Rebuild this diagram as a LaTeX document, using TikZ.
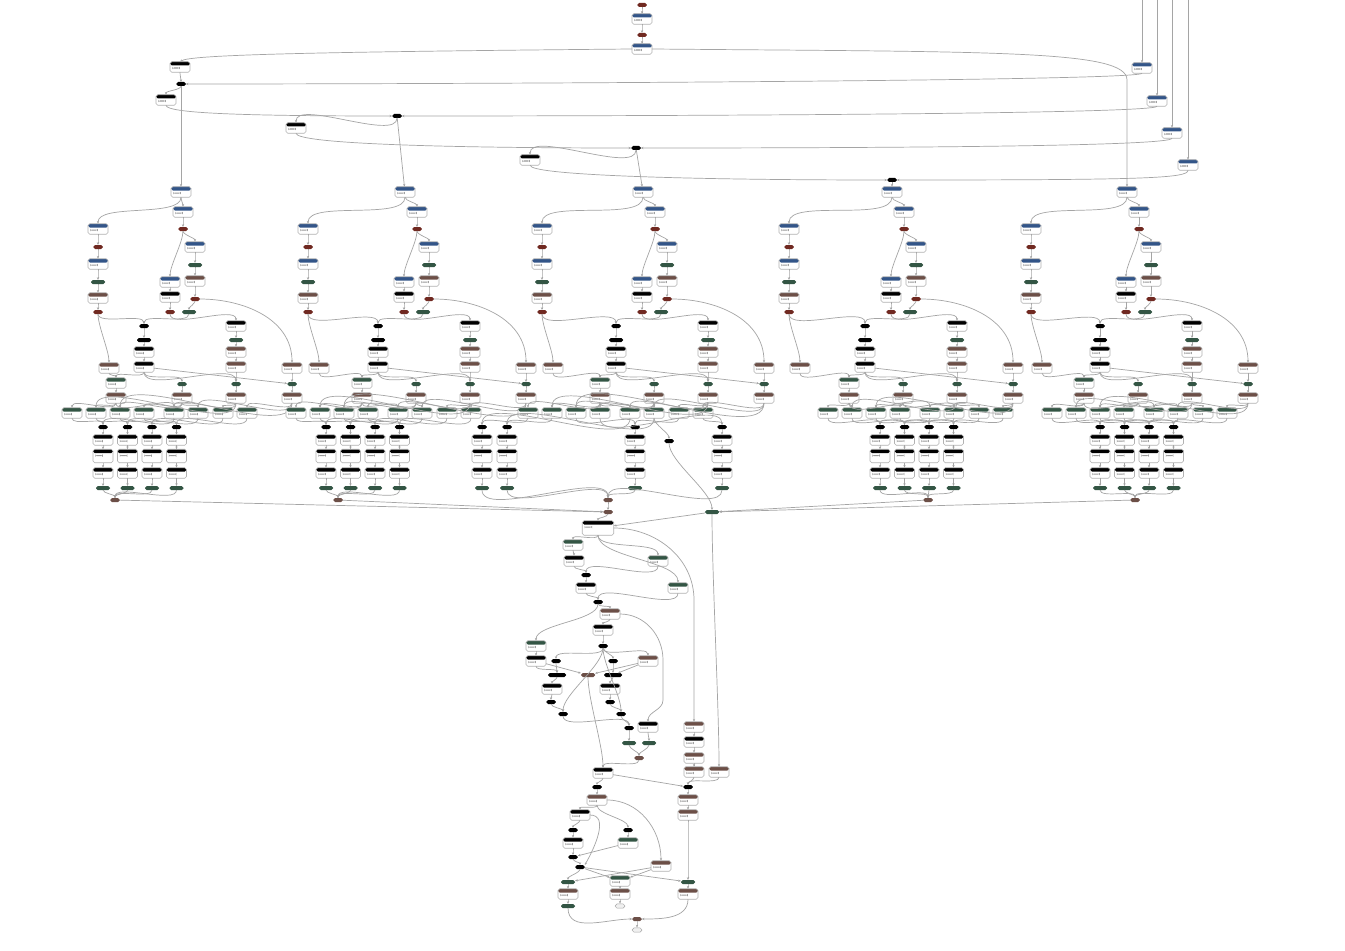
\documentclass[tikz,border=0pt]{standalone}
\usetikzlibrary{arrows.meta}

\definecolor{layerblue}{RGB}{51,85,136}
\definecolor{actred}{RGB}{112,41,33}
\definecolor{transgreen}{RGB}{51,85,68}
\definecolor{shapebrown}{RGB}{108,79,71}
\definecolor{edgegray}{RGB}{165,165,165}
\definecolor{boxline}{RGB}{178,178,178}

\tikzset{
	op/.style={rounded corners=0.35mm, minimum width=1.9mm, minimum height=0.8mm, inner sep=0pt, outer sep=0pt, fill=#1},
	op/.default=black,
	wop/.style={op=#1, minimum width=2.8mm},
	wop/.default=black,
	hdr/.style={draw=boxline, line width=0.35pt, fill=white, rounded corners=0.35mm, minimum width=4mm, minimum height=2.1mm, inner sep=0pt, outer sep=0pt,
		path picture={\fill[#1] (path picture bounding box.north west) rectangle ([yshift=-0.75mm]path picture bounding box.north east);
			\fill[black!40] ([xshift=0.45mm,yshift=-1.15mm]path picture bounding box.north west) rectangle +(1.5mm,-0.22mm);}},
	tall/.style={minimum height=2.7mm},
	outn/.style={rounded corners=0.35mm, minimum width=1.9mm, minimum height=0.85mm, inner sep=0pt, fill=black!6, draw=black!35, line width=0.3pt},
	edge/.style={draw=edgegray, line width=0.4pt, -{Stealth[length=0.55mm,width=0.45mm]}},
}
\newcommand\lk[2]{\draw[edge] (#1) to[out=-90,in=90,looseness=0.6] (#2);}

\begin{document}
\begin{tikzpicture}[x=0.2mm,y=-0.2mm]
		%%%%% START %%%%%
		\fill[white] (0,0) rectangle (1345,951);
		\useasboundingbox (0,0) rectangle (1345,951);

		% input chain
		\node[op=actred] (r0) at (642,5) {};
		\node[hdr=layerblue] (t1) at (642,19) {};
		\node[op=actred] (r1) at (642,35) {};
		\node[hdr=layerblue] (t2) at (642,49) {};
		\foreach \u/\v in {r0/t1, t1/r1, r1/t2}
			{\lk{\u}{\v}}

		\node[hdr=black] (k1) at (180,67) {};
		\node[op] (h1) at (181,84) {};
		\node[hdr=black] (k2) at (166,100) {};
		\node[op] (h2) at (397,116) {};
		\node[hdr=black] (k3) at (296,128) {};
		\node[op] (h3) at (636,148) {};
		\node[hdr=black] (k4) at (530,160) {};
		\node[op] (h4) at (892,180) {};
		\foreach \i/\x/\y in {1/1142/68, 2/1157/101, 3/1172/133, 4/1188/165} {
			\coordinate (tp\i) at (\x,0);
			\node[hdr=layerblue] (rb\i) at (\x,\y) {};
			\draw[edge] (tp\i) -- (rb\i);
			\draw[edge] (rb\i.south) .. controls +(0,8) and +(250,0) .. (h\i.east);
		}
		\draw[edge] (t2.west) .. controls (300,52) and (190,55) .. (k1.north);
		\foreach \u/\v in {k1/h1, h1/k2, h2/k3, h3/k4}
			{\lk{\u}{\v}}
		\draw[edge] (k2.south) .. controls +(0,8) and +(-150,0) .. (h2.west);
		\draw[edge] (k3.south) .. controls +(0,10) and +(-200,0) .. (h3.west);
		\draw[edge] (k4.south) .. controls +(0,10) and +(-200,0) .. (h4.west);

		% five blocks, upper part
		\foreach \b/\X/\R/\L/\BB in {1/181/181/98/116, 2/405/415/308/362, 3/643/653/542/600, 4/892/902/789/849, 5/1127/1137/1031/1084} {
			\node[hdr=layerblue] (A\b) at (\X,192) {};
			\node[hdr=layerblue] (B\b) at (\R+2,212) {};
			\node[hdr=layerblue] (C\b) at (\L,229) {};
			\node[op=actred] (D\b) at (\R+2,229) {};
			\node[op=actred] (E\b) at (\L,247) {};
			\node[hdr=layerblue] (J\b) at (\R+14,247) {};
			\node[hdr=layerblue] (F\b) at (\L,264) {};
			\node[wop=transgreen] (Lg\b) at (\R+14,265) {};
			\node[wop=transgreen] (G\b) at (\L,282) {};
			\node[hdr=layerblue] (K\b) at (\R-11,282) {};
			\node[hdr=shapebrown] (M\b) at (\R+14,281) {};
			\node[hdr=shapebrown] (H\b) at (\L,298) {};
			\node[hdr=black] (O\b) at (\R-11,297) {};
			\node[op=actred] (N\b) at (\R+14,299) {};
			\node[op=actred] (I\b) at (\L,312) {};
			\node[op=actred] (P\b) at (\R-11,312) {};
			\node[wop=transgreen] (Q\b) at (\R+8,312) {};
			\node[op] (S\b) at (\R-37,326) {};
			\node[hdr=black] (T\b) at (\R+55,326) {};
			\node[wop] (V\b) at (\R-37,340) {};
			\node[wop=transgreen] (Y\b) at (\R+55,340) {};
			\node[hdr=black] (W\b) at (\R-37,352) {};
			\node[hdr=shapebrown] (Z\b) at (\R+55,352) {};
			\node[hdr=black] (Xb\b) at (\R-37,367) {};
			\node[hdr=shapebrown] (AA\b) at (\R+55,367) {};
			\node[hdr=shapebrown] (U\b) at (\L+11,368) {};
			\node[hdr=shapebrown] (Rr\b) at (\R+111,368) {};
			\node[hdr=transgreen] (BB\b) at (\BB,383) {};
			\node[op=transgreen] (CC\b) at (\R+1,384) {};
			\node[op=transgreen] (DD\b) at (\R+55,384) {};
			\node[op=transgreen] (EE\b) at (\R+111,384) {};
			\node[hdr=shapebrown] (FF\b) at (\BB,398) {};
			\node[hdr=shapebrown] (GG\b) at (\R+1,398) {};
			\node[hdr=shapebrown] (HH\b) at (\R+55,398) {};
			\node[hdr=shapebrown] (II\b) at (\R+111,398) {};
			\foreach \u/\v in {A/B, A/C, B/D, C/E, E/F, F/G, G/H, H/I, D/J, D/K, J/Lg, Lg/M, M/N, K/O, O/P, N/Q,
					I/S, Q/S, P/T, I/U, S/V, V/W, W/Xb, T/Y, Y/Z, Z/AA, U/BB, Xb/BB, Xb/CC, Xb/DD, AA/DD, Rr/EE,
					BB/FF, CC/GG, DD/HH, EE/II}
				{\lk{\u\b}{\v\b}}
			\draw[edge] (N\b.east) to[out=0,in=90] (Rr\b.north);
			\draw[edge] (Xb\b) -- (EE\b);
		}
		\foreach \b in {1,...,4}
			\draw[edge] (h\b) -- (A\b);
		\draw[edge] (t2.east) .. controls (1000,52) and (1127,50) .. (1127,80) -- (A5.north);

		% five blocks, lower part
		\foreach \b/\G/\cl/\cv in {1/72/{103,127.5,152,176.5}/115, 2/296/{326,350.5,375,399.5}/338,
				3/528/{482,507,635,722}/608, 4/828/{880,904.5,929,953.5}/928, 5/1052/{1100,1124.5,1149,1173.5}/1135} {
			\foreach \o [count=\i] in {0,24,48,72,102,126,151,175}
				\node[hdr=transgreen] (g\b-\i) at (\G+\o,413) {};
			\foreach \u/\i in {FF/1, FF/2, FF/5, GG/3, GG/4, GG/6, HH/5, HH/7, HH/2, II/8, II/6, II/3}
				{\lk{\u\b}{g\b-\i}}
			\node[op=shapebrown] (cv\b) at (\cv,500) {};
			\foreach \cx [count=\j] in \cl {
				\pgfmathtruncatemacro\jj{\j+4}
				\node[op] (c\b-\j-1) at (\cx,427) {};
				\node[hdr=black] (c\b-\j-2) at (\cx,440) {};
				\node[hdr=black, tall] (c\b-\j-3) at (\cx,456) {};
				\node[hdr=black] (c\b-\j-4) at (\cx,473) {};
				\node[wop=transgreen] (c\b-\j-5) at (\cx,488) {};
				\lk{g\b-\j}{c\b-\j-1}
				\lk{g\b-\jj}{c\b-\j-1}
				\foreach \k [count=\kk from 2] in {1,2,3,4}
					{\lk{c\b-\j-\k}{c\b-\j-\kk}}
				\lk{c\b-\j-5}{cv\b}
			}
		}

		% merge
		\node[op] (x3) at (669,441) {};
		\node[op=shapebrown] (m1) at (608,512) {};
		\node[wop=transgreen] (m2) at (712,512) {};
		\lk{g3-6}{x3}
		\lk{x3}{m2}
		\lk{cv3}{m1}
		\foreach \b in {1,2}
			\draw[edge] (cv\b) -- (m1);
		\foreach \b in {4,5}
			\draw[edge] (cv\b) -- (m2);

		\node[hdr=black, minimum width=6.3mm, minimum height=2.9mm] (m3) at (598,528) {};
		\node[hdr=transgreen] (m4) at (573,545) {};
		\node[hdr=transgreen] (m5) at (658,561) {};
		\node[hdr=transgreen] (m6) at (678,588) {};
		\node[hdr=black] (m7) at (574,561) {};
		\node[op] (m8) at (586,575) {};
		\node[hdr=black] (m9) at (586,588) {};
		\node[op] (m10) at (598,602) {};
		\node[hdr=shapebrown] (m11) at (610,614) {};
		\node[hdr=transgreen] (m12) at (536,646) {};
		\node[hdr=black] (m13) at (603,630) {};
		\node[op] (m14) at (603,646) {};
		\node[hdr=black] (m15) at (536,661) {};
		\node[op] (m16) at (556,661) {};
		\node[op] (m17) at (613,661) {};
		\node[hdr=shapebrown] (m18) at (648,661) {};
		\node[wop, minimum width=3.6mm] (m19) at (557,675) {};
		\node[wop=shapebrown] (m20) at (588,675) {};
		\node[wop, minimum width=3.6mm] (m21) at (613,675) {};
		\node[hdr=black] (m22) at (552,689) {};
		\node[hdr=black] (m23) at (610,689) {};
		\node[op] (m24) at (551,702) {};
		\node[op] (m25) at (610,702) {};
		\node[op] (m26) at (563,714) {};
		\node[op] (m27) at (621,714) {};
		\node[op] (m28) at (629,728) {};
		\node[hdr=black] (m29) at (648,727) {};
		\node[wop=transgreen] (m30) at (629,743) {};
		\node[wop=transgreen] (m31) at (649,743) {};
		\node[op=shapebrown] (m32) at (639,758) {};
		\node[hdr=black] (m33) at (603,773) {};
		\node[hdr=shapebrown] (m34) at (694,727) {};
		\node[hdr=black] (m35) at (694,742) {};
		\node[hdr=shapebrown] (m36) at (694,758) {};
		\node[hdr=shapebrown] (m37) at (694,772) {};
		\node[hdr=shapebrown] (m38) at (719,772) {};
		\node[op] (m39) at (597,787) {};
		\node[op] (m40) at (688,787) {};
		\draw[edge] (m2) -- (m3);
		\foreach \u/\v in {m1/m3, m3/m4, m3/m5, m3/m6, m4/m7, m7/m8, m5/m8, m8/m9, m9/m10, m6/m10, m10/m11, m10/m12,
				m11/m13, m13/m14, m12/m15, m14/m16, m14/m17, m14/m18, m14/m26, m14/m27, m16/m19, m15/m19, m17/m21,
				m19/m22, m21/m23, m22/m24, m23/m25, m24/m26, m25/m27, m26/m28, m27/m28, m28/m30, m29/m31,
				m30/m32, m31/m32, m32/m33, m20/m33, m34/m35, m35/m36, m36/m37, m2/m38, m33/m39, m37/m40, m38/m40}
			{\lk{\u}{\v}}
		\foreach \u/\v in {m15/m20, m18/m20, m18/m21, m33/m40}
			\draw[edge] (\u) -- (\v);
		\draw[edge] (m11.east) to[out=0,in=90] (663,660) -- (663,700) to[out=-90,in=90] (m29.north);
		\draw[edge] (m3.east) to[out=0,in=90] (694,600) -- (m34.north);

		% tail
		\node[hdr=shapebrown] (n1) at (597,800) {};
		\node[hdr=shapebrown] (n2) at (688,800) {};
		\node[hdr=shapebrown] (n3) at (688,815) {};
		\node[hdr=black] (n4) at (580,815) {};
		\node[op] (n5) at (628,830) {};
		\node[op] (n6) at (573,830) {};
		\node[hdr=black] (n7) at (573,843) {};
		\node[hdr=transgreen] (n8) at (628,843) {};
		\node[op] (n9) at (573,857) {};
		\node[hdr=shapebrown] (n10) at (661,866) {};
		\node[op] (n11) at (580,867) {};
		\node[wop=transgreen] (n12) at (568,882) {};
		\node[hdr=transgreen] (n13) at (620,881) {};
		\node[wop=transgreen] (n14) at (688,882) {};
		\node[hdr=shapebrown] (n15) at (568,894) {};
		\node[hdr=shapebrown] (n16) at (620,894) {};
		\node[hdr=shapebrown] (n17) at (688,894) {};
		\node[wop=transgreen] (n18) at (568,906) {};
		\node[outn] (n19) at (620,906) {};
		\node[op=shapebrown] (n20) at (637,919) {};
		\node[outn] (n21) at (637,930) {};
		\foreach \u/\v in {m39/n1, m40/n2, n2/n3, n1/n4, n1/n5, n4/n6, n6/n7, n7/n9, n5/n8, n9/n11, n11/n12,
				n3/n14, n12/n15, n13/n16, n14/n17, n15/n18, n16/n19, n20/n21}
			{\lk{\u}{\v}}
		\foreach \u/\v in {n8/n9, n11/n13, n11/n14, n10/n12, n10/n13}
			\draw[edge] (\u) -- (\v);
		\draw[edge] (n1.east) to[out=0,in=90] (n10.north);
		\draw[edge] (n4.east) to[out=0,in=60] (n11.north east);
		\draw[edge] (n17.south) to[out=-90,in=0] (n20.east);
		\draw[edge] (n18.south) to[out=-90,in=180] (n20.west);
		%%%%% END %%%%%
\end{tikzpicture}
\end{document}
